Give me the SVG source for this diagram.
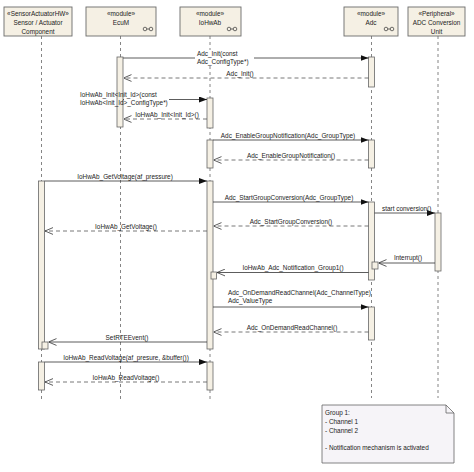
<svg xmlns="http://www.w3.org/2000/svg" width="474" height="472" viewBox="0 0 474 472">
<style>
text{font-family:"Liberation Sans",Arial,sans-serif;font-size:6.4px;fill:#222}
.c{text-anchor:middle}
.hd{fill:#f5f0e4;stroke:#6a6a6a;stroke-width:0.9}
.ll{stroke:#666;stroke-width:0.8;stroke-dasharray:3,3;fill:none}
.bar{fill:#f5f0e4;stroke:#666;stroke-width:0.8}
.m{stroke:#333;stroke-width:0.8;fill:none}
.r{stroke:#555;stroke-width:0.8;fill:none;stroke-dasharray:4,3}
.sync{marker-end:url(#fa)}
.open{marker-end:url(#oa)}
.ic{fill:none;stroke:#333;stroke-width:0.7}
</style>
<defs>
<marker id="fa" viewBox="0 0 8 6" refX="8" refY="3" markerWidth="8" markerHeight="6" orient="auto" markerUnits="userSpaceOnUse"><path d="M0,0 L8,3 L0,6 z" fill="#111"/></marker>
<marker id="oa" viewBox="0 0 8 8" refX="8" refY="4" markerWidth="8" markerHeight="8" orient="auto" markerUnits="userSpaceOnUse"><path d="M0,0.6 L8,4 L0,7.4" fill="none" stroke="#333" stroke-width="0.8"/></marker>
</defs>
<rect width="474" height="472" fill="#fff"/>

<g id="lifelines">
<line class="ll" x1="41.5" y1="36" x2="41.5" y2="399"/>
<line class="ll" x1="120.5" y1="36" x2="120.5" y2="399"/>
<line class="ll" x1="210" y1="36" x2="210" y2="399"/>
<line class="ll" x1="371.5" y1="36" x2="371.5" y2="398"/>
<line class="ll" x1="438" y1="36" x2="438" y2="398"/>
</g>

<g id="sensor">
<rect class="hd" x="4" y="7" width="68" height="29"/>
<text class="c" x="38" y="16">«SensorActuatorHW»</text>
<text class="c" x="38" y="25">Sensor / Actuator</text>
<text class="c" x="38" y="34">Component</text>
</g>
<g id="ecum">
<rect class="hd" x="86" y="7" width="70" height="29"/>
<text class="c" x="121" y="16">«module»</text>
<text class="c" x="121" y="25">EcuM</text>
<g class="ic"><circle cx="145" cy="29" r="1.8"/><circle cx="151" cy="29" r="1.8"/><line x1="146.8" y1="29" x2="149.2" y2="29"/></g>
</g>
<g id="iohwab">
<rect class="hd" x="180" y="7" width="61" height="29"/>
<text class="c" x="210" y="16">«module»</text>
<text class="c" x="210" y="25">IoHwAb</text>
<g class="ic"><circle cx="229" cy="29" r="1.8"/><circle cx="235" cy="29" r="1.8"/><line x1="230.8" y1="29" x2="233.2" y2="29"/></g>
</g>
<g id="adc">
<rect class="hd" x="344" y="7" width="54" height="29"/>
<text class="c" x="371" y="16">«module»</text>
<text class="c" x="371" y="25">Adc</text>
<g class="ic"><circle cx="386" cy="29" r="1.8"/><circle cx="392" cy="29" r="1.8"/><line x1="387.8" y1="29" x2="390.2" y2="29"/></g>
</g>
<g id="adcunit">
<rect class="hd" x="408" y="7" width="57" height="29"/>
<text class="c" x="436.5" y="16">«Peripheral»</text>
<text class="c" x="436.5" y="25">ADC Conversion</text>
<text class="c" x="436.5" y="34">Unit</text>
</g>

<g id="activations">
<rect class="bar" x="117" y="57" width="6" height="70"/>
<rect class="bar" x="368.5" y="57" width="6" height="30"/>
<rect class="bar" x="207" y="98" width="6" height="30"/>
<rect class="bar" x="207" y="140" width="6" height="28"/>
<rect class="bar" x="368.5" y="140" width="6" height="28"/>
<rect class="bar" x="38.5" y="181" width="6" height="168"/>
<rect class="bar" x="207" y="181" width="6" height="168"/>
<rect class="bar" x="368.5" y="202" width="6" height="78"/>
<rect class="bar" x="435" y="213" width="6" height="58"/>
<rect class="bar" x="372" y="262" width="6" height="7"/>
<rect class="bar" x="211" y="272" width="5.5" height="7"/>
<rect class="bar" x="368.5" y="307" width="6" height="33"/>
<rect class="bar" x="42" y="342" width="6" height="7"/>
<rect class="bar" x="38.5" y="362" width="6" height="28"/>
<rect class="bar" x="207" y="362" width="6" height="28"/>
</g>

<g id="connectors">
<line class="m sync" x1="123" y1="58" x2="368.5" y2="58"/>
<rect x="195" y="50" width="59" height="15" fill="#fff"/>
<text x="197" y="56">Adc_Init(const</text>
<text x="197" y="64">Adc_ConfigType*)</text>

<line class="r open" x1="368.5" y1="78" x2="123.5" y2="78"/>
<text class="c" x="240" y="75.5">Adc_Init()</text>

<line class="m sync" x1="123" y1="99.5" x2="207" y2="99.5"/>
<rect x="124" y="91" width="45" height="15" fill="#fff"/>
<text x="80" y="97">IoHwAb_Init&lt;Init_Id&gt;(const</text>
<text x="80" y="104.5">IoHwAb&lt;Init_Id&gt;_ConfigType*)</text>

<line class="r open" x1="207" y1="119" x2="123.5" y2="119"/>
<text class="c" x="167" y="117">IoHwAb_Init&lt;Init_Id&gt;()</text>

<line class="m sync" x1="213" y1="140" x2="368.5" y2="140"/>
<text class="c" x="288" y="137.5">Adc_EnableGroupNotification(Adc_GroupType)</text>

<line class="r open" x1="368.5" y1="160" x2="213.5" y2="160"/>
<text class="c" x="291" y="157.5">Adc_EnableGroupNotification()</text>

<line class="m sync" x1="44.5" y1="181" x2="207" y2="181"/>
<text class="c" x="125" y="178.5">IoHwAb_GetVoltage(af_pressure)</text>

<line class="m sync" x1="213" y1="202" x2="368.5" y2="202"/>
<text class="c" x="289" y="199.5">Adc_StartGroupConversion(Adc_GroupType)</text>

<line class="m sync" x1="374.5" y1="213" x2="435" y2="213"/>
<text x="382" y="210.5">start conversion()</text>

<line class="r open" x1="368.5" y1="226" x2="213.5" y2="226"/>
<text class="c" x="291" y="223.5">Adc_StartGroupConversion()</text>

<line class="r open" x1="207" y1="231" x2="45" y2="231"/>
<text class="c" x="126" y="229">IoHwAb_GetVoltage()</text>

<line class="m open" x1="435" y1="263" x2="378.5" y2="263"/>
<text class="c" x="408" y="260">Interrupt()</text>

<line class="m open" x1="368.5" y1="272.5" x2="217" y2="272.5"/>
<text class="c" x="293" y="270">IoHwAb_Adc_Notification_Group1()</text>

<line class="m sync" x1="213" y1="307" x2="368.5" y2="307"/>
<text x="228" y="294.5">Adc_OnDemandReadChannel(Adc_ChannelType)</text>
<text x="228" y="302.5">Adc_ValueType</text>

<line class="r open" x1="368.5" y1="332" x2="213.5" y2="332"/>
<text class="c" x="292" y="329.5">Adc_OnDemandReadChannel()</text>

<line class="m open" x1="207" y1="342" x2="48.5" y2="342"/>
<text class="c" x="127" y="339.5">SetRTEEvent()</text>

<line class="m sync" x1="44.5" y1="362" x2="207" y2="362"/>
<text class="c" x="126" y="359.5">IoHwAb_ReadVoltage(af_presure, &amp;buffer())</text>

<line class="r open" x1="207" y1="382" x2="45" y2="382"/>
<text class="c" x="126" y="379.5">IoHwAb_ReadVoltage()</text>
</g>

<g id="note">
<path d="M322,405 H446 L454,413 V463 H322 Z" fill="#f6f4f8" stroke="#666" stroke-width="0.8"/>
<path d="M446,405 V413 H454" fill="none" stroke="#666" stroke-width="0.8"/>
<text x="325" y="415">Group 1:</text>
<text x="325" y="424">- Channel 1</text>
<text x="325" y="433">- Channel 2</text>
<text x="325" y="450">- Notification mechanism is activated</text>
</g>
</svg>
